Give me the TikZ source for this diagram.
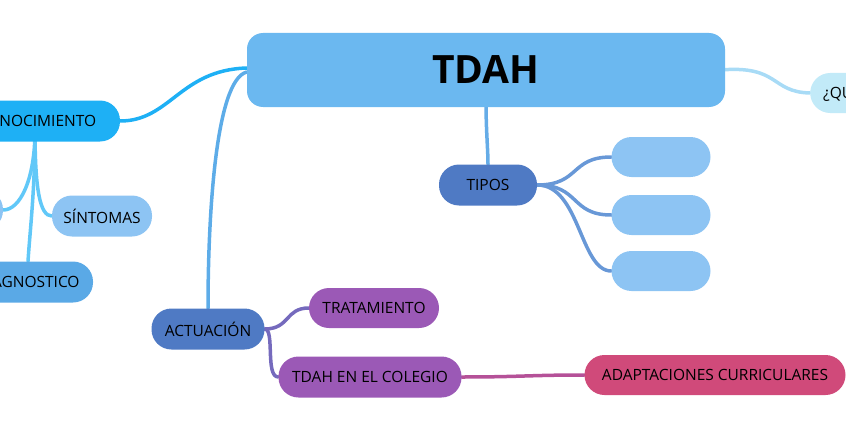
\documentclass[tikz,border=0pt]{standalone}
\usepackage{fontspec}
\setmainfont{Open Sans}
\definecolor{cmain}{HTML}{6BB8F0}
\definecolor{cq}{HTML}{C2EAF8}
\definecolor{ccon}{HTML}{1EB0F5}
\definecolor{clight}{HTML}{8DC4F3}
\definecolor{cdiag}{HTML}{5AA9E6}
\definecolor{cdark}{HTML}{4F7AC4}
\definecolor{cpurp}{HTML}{9B59B6}
\definecolor{cpink}{HTML}{D04A7A}
\pgfdeclarelayer{bg}\pgfsetlayers{bg,main}
\begin{document}
\begin{tikzpicture}[x=1pt,y=-1pt,
  pill/.style={rounded corners=20pt,inner sep=0pt,font=\fontsize{15.5}{18}\selectfont,text=black},
  link/.style={line width=3.5pt,line cap=round}]
\useasboundingbox (0,0) rectangle (846,444);
\begin{scope}
\clip (0,0) rectangle (846,444);
\node[pill,fill=cmain,rounded corners=16pt,minimum width=478pt,minimum height=74pt,font=\bfseries\fontsize{39}{44}\selectfont] (tdah) at (486,70) {TDAH};
\node[pill,fill=cq,anchor=west,minimum width=110pt,minimum height=40pt,text width=90pt,align=left] (q) at (810,93) {\hspace*{3pt}¿QUÉ ES?};
\node[pill,fill=ccon,minimum width=166pt,minimum height=41pt] (con) at (37,121) {CONOCIMIENTO};
\node[pill,fill=clight,minimum width=86pt,minimum height=41pt] (hid) at (-40,210) {};
\node[pill,fill=clight,minimum width=100pt,minimum height=41pt] (sin) at (102,216) {SÍNTOMAS};
\node[pill,fill=cdiag,minimum width=130pt,minimum height=41pt] (dia) at (28,282) {DIAGNOSTICO};
\node[pill,fill=cdark,minimum width=98pt,minimum height=41pt] (tip) at (488,185) {TIPOS};
\node[pill,fill=clight,minimum width=99pt,minimum height=40pt] (t1) at (661,157) {};
\node[pill,fill=clight,minimum width=99pt,minimum height=40pt] (t2) at (661,215) {};
\node[pill,fill=clight,minimum width=99pt,minimum height=40pt] (t3) at (661,271) {};
\node[pill,fill=cdark,minimum width=113pt,minimum height=41pt] (act) at (208,329) {ACTUACIÓN};
\node[pill,fill=cpurp,minimum width=130pt,minimum height=40pt] (tra) at (374,308) {TRATAMIENTO};
\node[pill,fill=cpurp,minimum width=183pt,minimum height=41pt] (col) at (370,377) {TDAH EN EL COLEGIO};
\node[pill,fill=cpink,minimum width=261pt,minimum height=40pt] (ada) at (715,375) {ADAPTACIONES CURRICULARES};
\end{scope}
\begin{pgfonlayer}{bg}
\draw[link,color=ccon] (tdah.west) ++(0,-2) .. controls (180,70) and (170,121) .. (con.east);
\draw[link,color=cdiag!80!cmain] (tdah.west) ++(0,2) .. controls (215,80) and (208,220) .. (act.north);
\draw[link,color=cmain!80!cdark] (tdah.south) ++(0,-5) .. controls (486,130) and (488,150) .. (tip.north);
\draw[link,color=cq!70!cmain] (tdah.east) ++(-5,0) .. controls (780,65) and (770,92) .. (q.west);
\draw[link,color=ccon!70!white] (35,130) .. controls (35,190) and (40,216) .. (sin.west);
\draw[link,color=ccon!70!white] (35,130) .. controls (35,190) and (30,230) .. (dia.north);
\draw[link,color=ccon!70!white] (35,130) .. controls (35,180) and (20,210) .. (hid.east);
\draw[link,color=cdark!60!clight] (tip.east) .. controls (580,185) and (570,157) .. (t1.west);
\draw[link,color=cdark!60!clight] (tip.east) .. controls (580,185) and (570,215) .. (t2.west);
\draw[link,color=cdark!60!clight] (tip.east) .. controls (580,185) and (580,271) .. (t3.west);
\draw[link,color=cdark!50!cpurp] (act.east) .. controls (290,329) and (285,308) .. (tra.west);
\draw[link,color=cdark!50!cpurp] (act.east) .. controls (275,329) and (265,377) .. (col.west);
\draw[link,color=cpurp!50!cpink] (col.east) .. controls (520,377) and (530,375) .. (ada.west);
\end{pgfonlayer}
\end{tikzpicture}
\end{document}
